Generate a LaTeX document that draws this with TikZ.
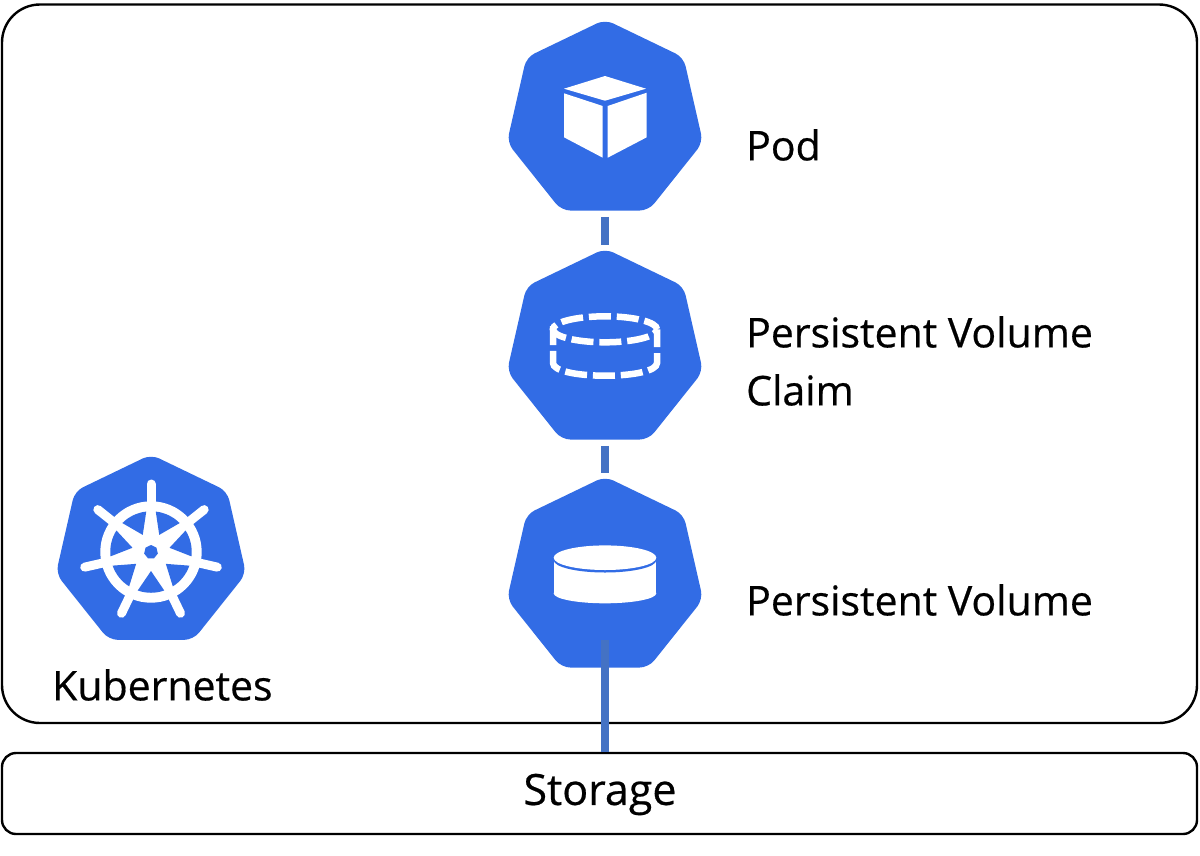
\documentclass[tikz,border=0pt]{standalone}
\usepackage{fontspec}
\setmainfont[FakeBold=0.5]{Open Sans}
\usetikzlibrary{shapes.geometric}
\definecolor{kubeblue}{HTML}{326CE5}
\definecolor{linkblue}{HTML}{4472C4}

\begin{document}
\begin{tikzpicture}[
	x=1pt,y=-1pt,
	frame/.style = {draw=black, line width=2.4pt, fill=white},
	hepta/.style = {regular polygon, regular polygon sides=7, fill=kubeblue,
		inner sep=0pt, minimum size=#1, rounded corners=9pt},
	link/.style = {linkblue, line width=8.5pt},
	caption/.style = {anchor=west, align=left, inner sep=0pt, font=\fontsize{41}{58}\selectfont},
	dashring/.style = {white, line width=6.5pt, dash pattern=on 22pt off 5.9pt, dash phase=6pt}
	]
	\useasboundingbox (0,0) rectangle (1200,855);

	\draw[frame, rounded corners=38pt] (2,4.5) rectangle (1197,723);
	\node (storage) [frame, rounded corners=14pt, minimum width=1195pt, minimum height=81pt,
		inner sep=0pt] at (599.5,793.5) {};
	\node (storagename) [inner sep=0pt, font=\fontsize{43}{46}\selectfont] at (600,794.5) {Storage};

	\node (pod) [hepta=201pt] at (605,120) {};
	\node (pvc) [hepta=201pt] at (605,349) {};
	\node (pv) [hepta=201pt] at (605,577) {};
	\node (kube) [hepta=195pt] at (151,552) {};
	\coordinate (tap) at (605,640);

	\node (podname) [caption] at (746,145) {Pod};
	\node (pvcname) [caption] at (746,361) {Persistent Volume\\Claim};
	\node (pvname) [caption] at (746,600) {Persistent Volume};
	\node (kubename) [caption] at (52,685) {Kubernetes};

	% cube
	\begin{scope}[shift={(pod.center)}]
		\fill[white] (-41,-31.3) -- (0,-44) -- (41,-31.3) -- (0,-19.3) -- cycle;
		\fill[white] (-41,-26.7) -- (-2.3,-14) -- (-2.3,37.7) -- (-41,17.3) -- cycle;
		\fill[white] (2.7,-14) -- (41.7,-27.3) -- (41.7,17.3) -- (2.7,37.7) -- cycle;
	\end{scope}

	% dashed drum
	\begin{scope}[shift={(pvc.center)}]
		\draw[dashring] (0,-19.7) ellipse [x radius=52pt, y radius=13pt];
		\draw[dashring, dash phase=3pt] (-52,-23) -- (-52,14) .. controls (-52,22) and (-28,26.7) .. (0,26.7)
			.. controls (28,26.7) and (52,22) .. (52,14) -- (52,-19.7);
	\end{scope}

	% solid drum
	\begin{scope}[shift={(pv.center)}]
		\fill[white] (-51.3,-19.3) rectangle (51.3,16.3);
		\fill[white] (0,16.3) ellipse [x radius=51.3pt, y radius=10pt];
		\fill[kubeblue] (0,-16.8) ellipse [x radius=51.3pt, y radius=12.3pt];
		\fill[white] (0,-19.3) ellipse [x radius=51.3pt, y radius=12.3pt];
	\end{scope}

	% helm wheel
	\begin{scope}[shift={(kube.center)}]
		\fill[white] (0,0) circle [radius=50.7pt];
		\foreach \ang in {90,141.43,192.86,244.29,295.71,347.14,398.57} {
			\draw[white, line width=9pt, line cap=round] (\ang:46pt) -- (\ang:68pt);
			\fill[kubeblue] (\ang+25.7:19pt) -- (\ang+6.7:40.7pt)
				.. controls (\ang+19:41.8pt) and (\ang+32.4:41.8pt) .. (\ang+44.7:40.7pt) -- cycle;
		}
		\node (hub) [hepta=14pt, rounded corners=0pt] at (0,0) {};
	\end{scope}

	\draw[link, shorten >=3pt, shorten <=6pt] (pod) -- (pvc);
	\draw[link, shorten >=3pt, shorten <=6pt] (pvc) -- (pv);
	\draw[link] (tap) -- (tap |- storage.north);
\end{tikzpicture}
\end{document}
